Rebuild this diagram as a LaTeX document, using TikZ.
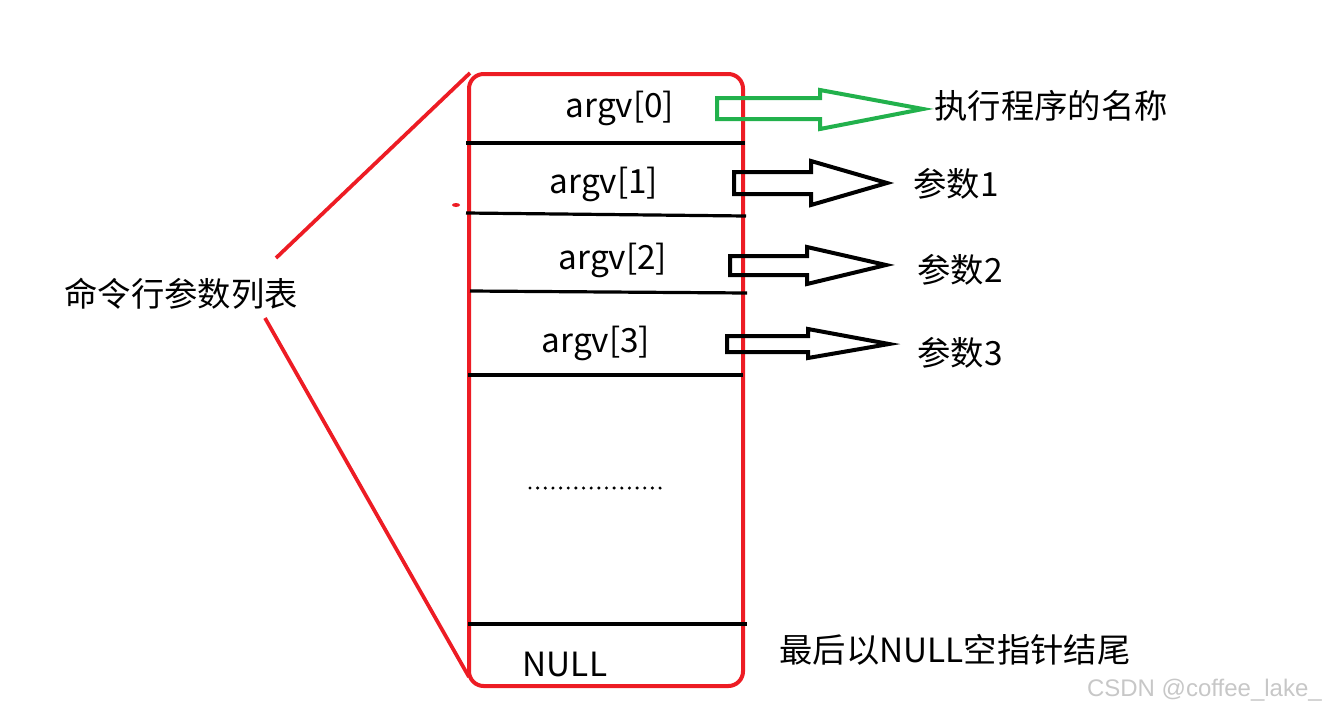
\documentclass[tikz,border=0pt]{standalone}
\usepackage{fontspec}
\setmainfont{Noto Sans CJK SC}
\newfontfamily\markfont{Liberation Sans}
\definecolor{penred}{RGB}{237,28,36}
\definecolor{pengreen}{RGB}{34,177,76}
\begin{document}
\begin{tikzpicture}[x=0.75pt, y=-0.75pt,
    txt/.style={font=\fontsize{25}{30}\selectfont, inner sep=0pt},
    sepline/.style={line width=2.4pt, black},
    blockarrow/.style={line width=3pt, line join=miter}]
    \useasboundingbox (0,0) rectangle (1327,711);

    % the array box
    \draw[penred, line width=3pt, rounded corners=11pt] (469,74) rectangle (743,686);
    \draw[penred, line width=2.8pt] (276,258) -- (470,73);
    \draw[penred, line width=2.8pt] (265,318) -- (469,677);
    \fill[penred] (456,205) ellipse (4 and 2);

    \draw[sepline] (466,143) -- (745,143);
    \draw[sepline] (466,213) -- (746,216);
    \draw[sepline] (470,291) -- (747,293);
    \draw[sepline] (468,375) -- (743,375);
    \draw[sepline] (468,624) -- (747,624);

    \node[txt] (a0) at (620,108) {argv[0]};
    \node[txt] (a1) at (604,184) {argv[1]};
    \node[txt] (a2) at (613,260) {argv[2]};
    \node[txt] (a3) at (596,343) {argv[3]};
    \node[txt] (null) at (565,664) {NULL};
    \foreach \i in {0,...,17}
        \fill (530+7.65*\i,488) circle (1.7);

    \node[txt] (list) at (181,294) {命令行参数列表};

    % arrows to the meanings
    \draw[blockarrow, pengreen] (717,98) -- (820,98) -- (820,90) -- (923,109)
        -- (820,129) -- (820,119) -- (717,119) -- cycle;
    \draw[blockarrow] (734,172) -- (811,172) -- (811,161) -- (887,183)
        -- (811,205) -- (811,194) -- (734,194) -- cycle;
    \draw[blockarrow] (730,256) -- (807,256) -- (807,247) -- (886,265)
        -- (807,284) -- (807,275) -- (730,275) -- cycle;
    \draw[blockarrow] (727,336) -- (808,336) -- (808,329) -- (889,344)
        -- (808,358) -- (808,352) -- (727,352) -- cycle;

    \node[txt] (name) at (1051,106) {执行程序的名称};
    \node[txt] (p1) at (956,184) {参数1};
    \node[txt] (p2) at (960,270) {参数2};
    \node[txt] (p3) at (960,353) {参数3};
    \node[txt] (end) at (955,650) {最后以NULL空指针结尾};

    \node[font=\markfont\fontsize{18}{20}\selectfont, text=black!22, anchor=east,
        inner sep=0pt] (mark) at (1322,690) {CSDN @coffee\_lake\_};
\end{tikzpicture}
\end{document}
